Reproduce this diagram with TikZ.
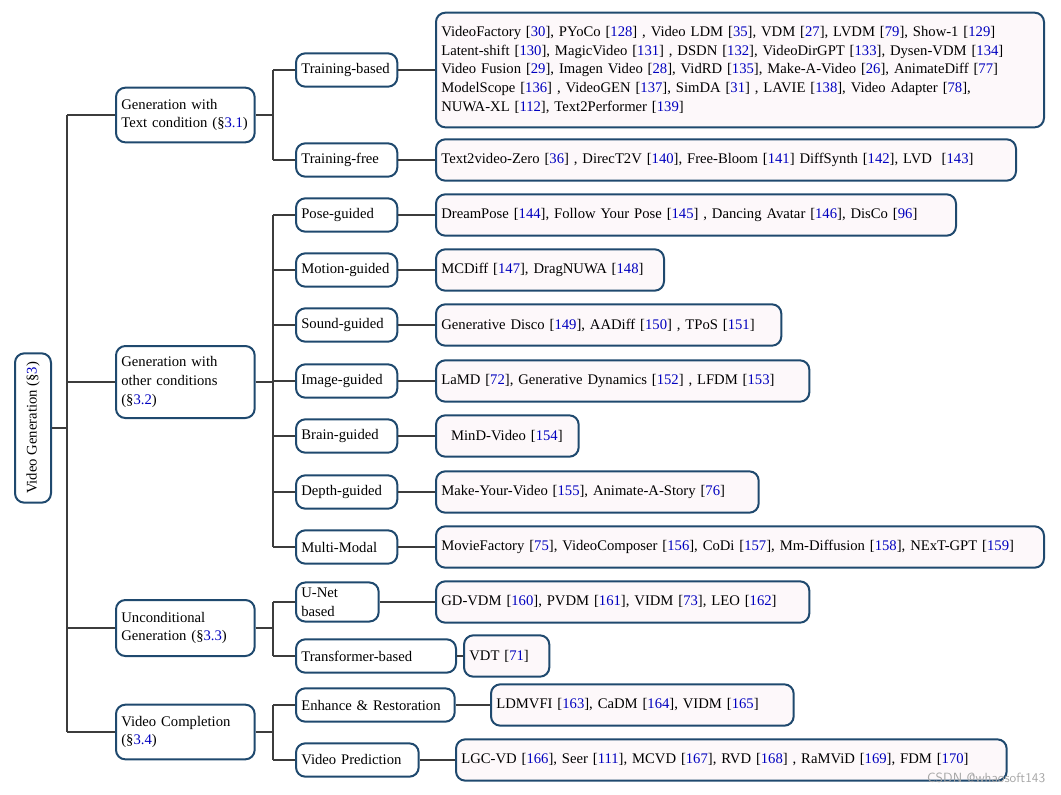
\documentclass[tikz,border=0pt]{standalone}
\usepackage{fontspec}
\setmainfont{Liberation Serif}
\definecolor{bd}{RGB}{31,73,110}
\definecolor{ln}{RGB}{60,60,60}
\definecolor{lf}{RGB}{253,248,250}
\newcommand{\rf}[1]{[\textcolor{blue!75!black}{#1}]}
\begin{document}
\begin{tikzpicture}[x=0.75pt,y=-0.75pt,
  box/.style={draw=bd,line width=1.5pt,rounded corners=7pt,fill=white,font=\fontsize{11}{14}\selectfont,inner sep=4pt},
  lone/.style={box,align=left,text width=#1,anchor=west},
  ltwo/.style={box,minimum height=25pt,text width=#1,anchor=west,align=left},
  leaf/.style={box,fill=lf,minimum height=31pt,text width=#1,anchor=west,align=left},
  con/.style={draw=ln,line width=1.5pt}]
\useasboundingbox (0,0) rectangle (1061,794);
\node[box,rotate=90,minimum width=112pt,minimum height=27pt] (root) at (33,428) {Video Generation (§\textcolor{blue!75!black}{3})};
% level 1
\node[lone=96pt,minimum height=41pt] (t) at (115,115) {Generation with\\Text condition (§\textcolor{blue!75!black}{3.1})};
\node[lone=96pt,minimum height=54pt] (o) at (115,382) {Generation with\\other conditions\\(§\textcolor{blue!75!black}{3.2})};
\node[lone=96pt,minimum height=42pt] (u) at (115,628) {Unconditional\\Generation (§\textcolor{blue!75!black}{3.3})};
\node[lone=96pt,minimum height=41pt] (c) at (115,732) {Video Completion\\(§\textcolor{blue!75!black}{3.4})};
% level 2
\node[ltwo=68pt] (tb) at (295,70) {Training-based};
\node[ltwo=68pt] (tf) at (295,160) {Training-free};
\node[ltwo=68pt] (po) at (295,215) {Pose-guided};
\node[ltwo=68pt] (mo) at (295,270) {Motion-guided};
\node[ltwo=68pt] (so) at (295,325) {Sound-guided};
\node[ltwo=68pt] (im) at (295,381) {Image-guided};
\node[ltwo=68pt] (br) at (295,436) {Brain-guided};
\node[ltwo=68pt] (de) at (295,492) {Depth-guided};
\node[ltwo=68pt] (mm) at (295,547) {Multi-Modal};
\node[ltwo=54pt] (un) at (295,602) {U-Net based};
\node[ltwo=112pt] (tr) at (295,656) {Transformer-based};
\node[ltwo=111pt] (en) at (295,705) {Enhance \& Restoration};
\node[ltwo=84pt] (vp) at (295,760) {Video Prediction};
% leaves
\node[leaf=448pt,minimum height=86pt] (l1) at (435,70) {VideoFactory \rf{30}, PYoCo \rf{128} , Video LDM \rf{35}, VDM \rf{27}, LVDM \rf{79}, Show-1 \rf{129}\\Latent-shift \rf{130}, MagicVideo \rf{131} , DSDN \rf{132}, VideoDirGPT \rf{133}, Dysen-VDM \rf{134}\\Video Fusion \rf{29}, Imagen Video \rf{28}, VidRD \rf{135}, Make-A-Video \rf{26}, AnimateDiff \rf{77}\\ModelScope \rf{136} , VideoGEN \rf{137}, SimDA \rf{31} , LAVIE \rf{138}, Video Adapter \rf{78},\\NUWA-XL \rf{112}, Text2Performer \rf{139}};
\node[leaf=427pt] (l2) at (435,160) {Text2video-Zero \rf{36} , DirecT2V \rf{140}, Free-Bloom \rf{141} DiffSynth \rf{142}, LVD~~\rf{143}};
\node[leaf=382pt] (l3) at (435,215) {DreamPose \rf{144}, Follow Your Pose \rf{145} , Dancing Avatar \rf{146}, DisCo \rf{96}};
\node[leaf=163pt] (l4) at (435,270) {MCDiff \rf{147}, DragNUWA \rf{148}};
\node[leaf=251pt] (l5) at (435,325) {Generative Disco \rf{149}, AADiff \rf{150} , TPoS \rf{151}};
\node[leaf=272pt] (l6) at (435,381) {LaMD \rf{72}, Generative Dynamics \rf{152} , LFDM \rf{153}};
\node[leaf=99pt] (l7) at (435,436) {~~MinD-Video \rf{154}};
\node[leaf=234pt] (l8) at (435,492) {Make-Your-Video \rf{155}, Animate-A-Story \rf{76}};
\node[leaf=448pt] (l9) at (435,547) {MovieFactory \rf{75}, VideoComposer \rf{156}, CoDi \rf{157}, Mm-Diffusion \rf{158}, NExT-GPT \rf{159}};
\node[leaf=272pt] (l10) at (435,602) {GD-VDM \rf{160}, PVDM \rf{161}, VIDM \rf{73}, LEO \rf{162}};
\node[leaf=56pt] (l11) at (463,656) {VDT \rf{71}};
\node[leaf=219pt] (l12) at (490,705) {LDMVFI \rf{163}, CaDM \rf{164}, VIDM \rf{165}};
\node[leaf=405pt] (l13) at (455,760) {LGC-VD \rf{166}, Seer \rf{111}, MCVD \rf{167}, RVD \rf{168} , RaMViD \rf{169}, FDM \rf{170}};
% connectors
\coordinate (j0) at (67,0);
\coordinate (j1) at (273,0);
\draw[con] (root.south) -- (root.south -| j0);
\draw[con] (t.west -| j0) -- (c.west -| j0);
\foreach \n in {t,o,u,c} \draw[con] (\n.west -| j0) -- (\n.west);
\draw[con] (t.east) -- (t.east -| j1);
\draw[con] (tb.west -| j1) -- (tf.west -| j1);
\draw[con] (o.east) -- (o.east -| j1);
\draw[con] (po.west -| j1) -- (mm.west -| j1);
\draw[con] (u.east) -- (u.east -| j1);
\draw[con] (un.west -| j1) -- (tr.west -| j1);
\draw[con] (c.east) -- (c.east -| j1);
\draw[con] (en.west -| j1) -- (vp.west -| j1);
\foreach \n in {tb,tf,po,mo,so,im,br,de,mm,un,tr,en,vp} \draw[con] (\n.west -| j1) -- (\n.west);
\foreach \a/\b in {tb/l1,tf/l2,po/l3,mo/l4,so/l5,im/l6,br/l7,de/l8,mm/l9,un/l10,tr/l11,en/l12,vp/l13} \draw[con] (\a.east) -- (\b.west);
\node[anchor=east,text=gray!70,font=\fontsize{10}{12}\selectfont\sffamily] (wm) at (1050,778) {CSDN @whaosoft143};
\end{tikzpicture}
\end{document}
